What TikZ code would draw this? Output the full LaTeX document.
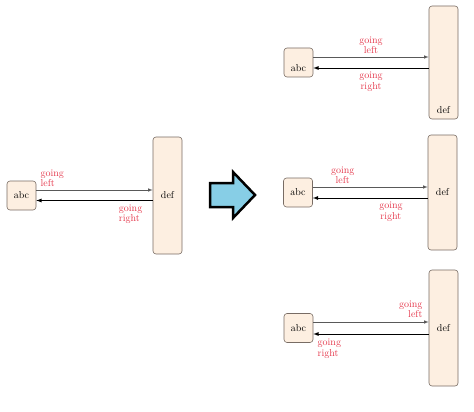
\documentclass[tikz,border=0pt]{standalone}
\usepackage{tikz}
\usetikzlibrary{arrows}

\definecolor{lblred}{RGB}{228,52,72}
\definecolor{boxfill}{RGB}{253,239,225}
\definecolor{boxline}{RGB}{120,108,100}
\definecolor{bigblue}{RGB}{135,206,230}

\tikzset{
  box/.style={draw=boxline, semithick, fill=boxfill, rounded corners=3pt, inner sep=0pt,
    minimum width=29pt, minimum height=29pt},
  tall/.style={box, minimum height=#1},
  lbl/.style={text=lblred, inner sep=1pt, font=\fontsize{10}{10.5}\selectfont},
  toright/.style={draw=black!65, semithick, -latex},
  toleft/.style={thick, -latex}
}

\begin{document}
\begin{tikzpicture}[x=1pt, y=-1pt]
  \useasboundingbox (0,0) rectangle (474,412);
  % left: before
  \node[box] (a0) at (21.5,195.5) {abc};
  \node[tall=117pt] (d0) at (167.5,195.5) {def};
  \draw[toright] ([yshift=5.5pt]a0.east) -- ([yshift=5.5pt]d0.west)
    node[lbl, pos=0, anchor=south west, align=left, xshift=3pt, yshift=2pt] {going\\left};
  \draw[toleft] ([yshift=-5pt]d0.west) -- ([yshift=-5pt]a0.east)
    node[lbl, pos=0, anchor=north east, align=left, xshift=-9pt, yshift=-3pt] {going\\right};

  % the big arrow
  \draw[line width=2.5pt, fill=bigblue, line join=miter]
    (210,183) -- (233,183) -- (233,172) -- (255,195) -- (233,218) -- (233,207) -- (210,207) -- cycle;

  % right, top
  \node[box, text height=20pt, text depth=2pt, inner sep=3.5pt] (a1) at (298.5,62.5) {abc};
  \node[box, text height=104pt, text depth=2pt, inner sep=3.5pt] (d1) at (443.5,62.5) {def};
  \draw[toright] ([yshift=5.5pt]a1.east) -- ([yshift=5.5pt]d1.west)
    node[lbl, midway, above, align=center, yshift=2pt] {going\\left};
  \draw[toleft] ([yshift=-5.5pt]d1.west) -- ([yshift=-5.5pt]a1.east)
    node[lbl, midway, below, align=center, yshift=-3pt] {going\\right};

  % right, middle
  \node[box] (a2) at (298,192.5) {abc};
  \node[tall=115pt] (d2) at (442.5,192.5) {def};
  \draw[toright] ([yshift=5.5pt]a2.east) -- ([yshift=5.5pt]d2.west)
    node[lbl, pos=0.26, above, align=center, yshift=2pt] {going\\left};
  \draw[toleft] ([yshift=-5.5pt]d2.west) -- ([yshift=-5.5pt]a2.east)
    node[lbl, pos=0.32, below, align=center, yshift=-3pt] {going\\right};

  % right, bottom
  \node[box] (a3) at (298.5,328) {abc};
  \node[tall=116pt] (d3) at (443.5,328) {def};
  \draw[toright] ([yshift=6pt]a3.east) -- ([yshift=6pt]d3.west)
    node[lbl, pos=1, anchor=south east, align=right, xshift=-5pt, yshift=3pt] {going\\left};
  \draw[toleft] ([yshift=-6pt]d3.west) -- ([yshift=-6pt]a3.east)
    node[lbl, pos=1, anchor=north west, align=left, xshift=3pt, yshift=-4pt] {going\\right};
\end{tikzpicture}
\end{document}
